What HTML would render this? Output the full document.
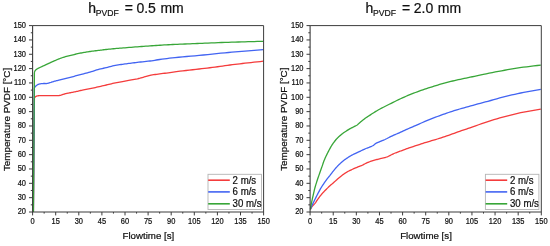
<!DOCTYPE html>
<html><head><meta charset="utf-8"><title>PVDF temperature vs flowtime</title>
<style>html,body{margin:0;padding:0;background:#fff;overflow:hidden}svg{display:block}</style>
</head><body>
<svg width="550" height="246" viewBox="0 0 550 246">
<rect width="550" height="246" fill="#fff"/>
<g>
<path d="M33.40,212.00 L34.40,98.00 L34.53,97.83 L34.66,97.66 L34.78,97.49 L34.91,97.32 L35.05,97.15 L35.20,97.00 L35.36,96.85 L35.53,96.70 L35.71,96.56 L35.90,96.43 L36.09,96.31 L36.30,96.20 L36.55,96.10 L36.81,96.02 L37.09,95.95 L37.38,95.90 L37.68,95.85 L38.00,95.80 L38.44,95.74 L38.91,95.70 L39.40,95.67 L39.91,95.64 L40.45,95.62 L41.00,95.60 L41.75,95.58 L42.56,95.58 L43.39,95.58 L44.25,95.59 L45.13,95.60 L46.00,95.60 L46.97,95.60 L47.96,95.60 L48.97,95.60 L49.98,95.60 L50.99,95.60 L52.00,95.60 L53.03,95.61 L54.10,95.62 L55.16,95.64 L56.19,95.64 L57.15,95.63 L58.00,95.60 L58.48,95.57 L58.93,95.54 L59.34,95.49 L59.73,95.44 L60.12,95.38 L60.50,95.30 L60.85,95.21 L61.19,95.09 L61.52,94.97 L61.84,94.84 L62.17,94.72 L62.50,94.60 L62.83,94.49 L63.15,94.39 L63.47,94.30 L63.79,94.20 L64.14,94.10 L64.50,94.00 L64.99,93.87 L65.51,93.73 L66.06,93.60 L66.62,93.46 L67.20,93.33 L67.80,93.20 L68.55,93.05 L69.33,92.90 L70.14,92.75 L70.96,92.60 L71.79,92.45 L72.60,92.30 L73.41,92.14 L74.23,91.98 L75.05,91.82 L75.87,91.65 L76.68,91.48 L77.50,91.30 L78.31,91.11 L79.09,90.91 L79.88,90.71 L80.69,90.50 L81.52,90.30 L82.40,90.10 L83.57,89.87 L84.80,89.64 L86.08,89.42 L87.39,89.19 L88.70,88.95 L90.00,88.70 L91.32,88.42 L92.65,88.13 L93.98,87.83 L95.32,87.52 L96.66,87.21 L98.00,86.90 L99.38,86.59 L100.77,86.27 L102.16,85.95 L103.55,85.63 L104.93,85.32 L106.30,85.00 L107.60,84.70 L108.87,84.39 L110.14,84.08 L111.41,83.78 L112.70,83.48 L114.00,83.20 L115.40,82.92 L116.82,82.64 L118.25,82.37 L119.69,82.11 L121.11,81.86 L122.50,81.60 L123.77,81.36 L125.01,81.13 L126.24,80.90 L127.47,80.67 L128.72,80.44 L130.00,80.20 L131.44,79.93 L132.93,79.66 L134.44,79.39 L135.94,79.10 L137.41,78.81 L138.80,78.50 L139.95,78.22 L141.06,77.91 L142.14,77.61 L143.20,77.30 L144.25,76.99 L145.30,76.70 L146.26,76.44 L147.18,76.17 L148.09,75.91 L149.02,75.66 L149.98,75.43 L151.00,75.20 L152.33,74.95 L153.73,74.72 L155.18,74.51 L156.67,74.30 L158.18,74.10 L159.70,73.90 L161.37,73.68 L163.07,73.46 L164.80,73.25 L166.55,73.04 L168.28,72.82 L170.00,72.60 L171.64,72.38 L173.23,72.15 L174.81,71.92 L176.43,71.68 L178.15,71.44 L180.00,71.20 L182.85,70.85 L185.98,70.49 L189.28,70.11 L192.64,69.74 L195.95,69.36 L199.10,69.00 L201.84,68.68 L204.53,68.37 L207.17,68.06 L209.79,67.75 L212.39,67.43 L215.00,67.10 L217.53,66.76 L220.03,66.41 L222.53,66.05 L225.02,65.69 L227.50,65.34 L230.00,65.00 L232.48,64.68 L234.94,64.38 L237.41,64.08 L239.89,63.79 L242.41,63.50 L245.00,63.20 L247.94,62.87 L250.96,62.53 L254.04,62.20 L257.13,61.87 L260.23,61.53 L263.30,61.20" fill="none" stroke="#f43c3c" stroke-width="1.3" stroke-linejoin="round"/>
<path d="M33.40,212.00 L34.40,87.80 L34.55,87.60 L34.69,87.40 L34.83,87.19 L34.98,86.99 L35.13,86.79 L35.30,86.60 L35.49,86.39 L35.69,86.18 L35.91,85.98 L36.13,85.78 L36.36,85.59 L36.60,85.40 L36.88,85.20 L37.18,85.00 L37.50,84.80 L37.82,84.62 L38.16,84.45 L38.50,84.30 L38.89,84.16 L39.29,84.04 L39.70,83.94 L40.13,83.85 L40.56,83.77 L41.00,83.70 L41.48,83.64 L41.99,83.59 L42.49,83.56 L43.00,83.53 L43.51,83.52 L44.00,83.50 L44.45,83.50 L44.90,83.51 L45.34,83.52 L45.77,83.53 L46.19,83.53 L46.60,83.50 L46.93,83.46 L47.26,83.40 L47.57,83.33 L47.88,83.26 L48.19,83.18 L48.50,83.10 L48.83,83.01 L49.14,82.92 L49.46,82.82 L49.79,82.72 L50.13,82.61 L50.50,82.50 L51.02,82.34 L51.59,82.15 L52.17,81.96 L52.78,81.77 L53.39,81.58 L54.00,81.40 L54.64,81.23 L55.28,81.06 L55.93,80.90 L56.59,80.74 L57.28,80.58 L58.00,80.40 L58.94,80.17 L59.94,79.92 L60.97,79.67 L62.02,79.41 L63.07,79.15 L64.10,78.90 L65.12,78.65 L66.13,78.41 L67.15,78.16 L68.17,77.91 L69.18,77.66 L70.20,77.40 L71.22,77.13 L72.23,76.84 L73.25,76.56 L74.27,76.27 L75.28,75.98 L76.30,75.70 L77.31,75.43 L78.31,75.17 L79.31,74.91 L80.32,74.64 L81.34,74.38 L82.40,74.10 L83.62,73.78 L84.87,73.47 L86.14,73.14 L87.43,72.81 L88.72,72.46 L90.00,72.10 L91.32,71.70 L92.65,71.28 L93.98,70.85 L95.31,70.41 L96.65,69.99 L98.00,69.60 L99.37,69.24 L100.76,68.89 L102.16,68.57 L103.55,68.25 L104.93,67.93 L106.30,67.60 L107.60,67.28 L108.87,66.94 L110.14,66.61 L111.41,66.29 L112.69,65.98 L114.00,65.70 L115.39,65.43 L116.82,65.18 L118.25,64.94 L119.69,64.72 L121.11,64.51 L122.50,64.30 L123.77,64.12 L125.01,63.94 L126.24,63.78 L127.47,63.62 L128.72,63.46 L130.00,63.30 L131.41,63.12 L132.84,62.93 L134.29,62.75 L135.76,62.56 L137.26,62.38 L138.80,62.20 L140.60,62.00 L142.46,61.81 L144.37,61.62 L146.28,61.43 L148.17,61.22 L150.00,61.00 L151.63,60.77 L153.20,60.53 L154.76,60.27 L156.33,60.01 L157.96,59.76 L159.70,59.50 L162.01,59.18 L164.41,58.86 L166.91,58.54 L169.51,58.22 L172.21,57.91 L175.00,57.60 L178.69,57.23 L182.60,56.86 L186.65,56.51 L190.80,56.15 L194.97,55.78 L199.10,55.40 L203.40,54.98 L207.79,54.53 L212.20,54.08 L216.58,53.63 L220.87,53.20 L225.00,52.80 L228.49,52.48 L231.89,52.19 L235.22,51.91 L238.49,51.64 L241.75,51.37 L245.00,51.10 L248.10,50.84 L251.16,50.59 L254.20,50.34 L257.23,50.10 L260.26,49.85 L263.30,49.60" fill="none" stroke="#4264f2" stroke-width="1.3" stroke-linejoin="round"/>
<path d="M33.40,212.00 L34.40,72.40 L34.50,72.15 L34.59,71.89 L34.68,71.63 L34.78,71.37 L34.88,71.13 L35.00,70.90 L35.11,70.71 L35.23,70.54 L35.36,70.37 L35.50,70.21 L35.64,70.06 L35.80,69.90 L36.00,69.72 L36.22,69.55 L36.45,69.38 L36.70,69.22 L36.95,69.06 L37.20,68.90 L37.48,68.73 L37.77,68.56 L38.07,68.39 L38.38,68.23 L38.69,68.06 L39.00,67.90 L39.34,67.73 L39.68,67.56 L40.03,67.40 L40.38,67.23 L40.74,67.07 L41.10,66.90 L41.49,66.72 L41.88,66.54 L42.27,66.36 L42.67,66.18 L43.08,66.00 L43.50,65.80 L43.99,65.56 L44.50,65.32 L45.02,65.06 L45.54,64.81 L46.07,64.55 L46.60,64.30 L47.15,64.05 L47.70,63.81 L48.25,63.56 L48.81,63.32 L49.39,63.07 L50.00,62.80 L50.78,62.46 L51.59,62.09 L52.44,61.72 L53.30,61.34 L54.15,60.97 L55.00,60.60 L55.82,60.24 L56.64,59.89 L57.45,59.53 L58.28,59.18 L59.12,58.84 L60.00,58.50 L61.03,58.13 L62.09,57.76 L63.19,57.40 L64.29,57.05 L65.40,56.72 L66.50,56.40 L67.58,56.11 L68.65,55.83 L69.73,55.57 L70.81,55.31 L71.90,55.06 L73.00,54.80 L74.16,54.53 L75.33,54.25 L76.51,53.97 L77.69,53.70 L78.86,53.44 L80.00,53.20 L81.02,52.99 L82.03,52.80 L83.03,52.62 L84.01,52.44 L85.00,52.27 L86.00,52.10 L86.99,51.94 L87.97,51.78 L88.96,51.63 L89.95,51.49 L90.96,51.34 L92.00,51.20 L93.21,51.04 L94.46,50.89 L95.73,50.74 L97.01,50.59 L98.27,50.45 L99.50,50.30 L100.60,50.16 L101.66,50.03 L102.71,49.90 L103.77,49.76 L104.86,49.63 L106.00,49.50 L107.41,49.35 L108.87,49.19 L110.38,49.04 L111.91,48.89 L113.46,48.74 L115.00,48.60 L116.62,48.46 L118.25,48.33 L119.90,48.20 L121.57,48.07 L123.26,47.94 L125.00,47.80 L126.99,47.64 L129.03,47.47 L131.11,47.30 L133.21,47.13 L135.31,46.96 L137.40,46.80 L139.50,46.64 L141.60,46.49 L143.71,46.34 L145.82,46.19 L147.92,46.04 L150.00,45.90 L152.01,45.76 L154.00,45.62 L155.99,45.49 L157.97,45.35 L159.98,45.23 L162.00,45.10 L164.13,44.97 L166.26,44.85 L168.41,44.73 L170.58,44.62 L172.77,44.51 L175.00,44.40 L177.44,44.29 L179.92,44.19 L182.44,44.09 L184.97,43.99 L187.49,43.90 L190.00,43.80 L192.45,43.70 L194.86,43.60 L197.26,43.51 L199.70,43.41 L202.20,43.30 L204.80,43.20 L207.99,43.07 L211.30,42.93 L214.71,42.79 L218.16,42.66 L221.60,42.52 L225.00,42.40 L228.35,42.29 L231.71,42.18 L235.06,42.08 L238.40,41.99 L241.72,41.89 L245.00,41.80 L248.10,41.71 L251.16,41.63 L254.20,41.55 L257.23,41.46 L260.26,41.38 L263.30,41.30" fill="none" stroke="#38a638" stroke-width="1.3" stroke-linejoin="round"/>
<path d="M32.6,25.6 H263.6 V212.0" fill="none" stroke="#3c3c3c" stroke-width="1"/>
<rect x="208.00" y="174.3" width="53.5" height="35.2" fill="#fff" stroke="#b4b4b4" stroke-width="0.9"/>
<line x1="208.20" y1="180.2" x2="229.80" y2="180.2" stroke="#f43c3c" stroke-width="1.6"/>
<line x1="208.20" y1="191.9" x2="229.80" y2="191.9" stroke="#4264f2" stroke-width="1.6"/>
<line x1="208.20" y1="203.8" x2="229.80" y2="203.8" stroke="#38a638" stroke-width="1.6"/>
</g>
<path d="M32.6,25.6 V212.0 H263.6" fill="none" stroke="#3c3c3c" stroke-width="1.1"/>
<path d="M32.60,212.0 v3.4 M44.15,212.0 v1.6 M55.70,212.0 v3.4 M67.25,212.0 v1.6 M78.80,212.0 v3.4 M90.35,212.0 v1.6 M101.90,212.0 v3.4 M113.45,212.0 v1.6 M125.00,212.0 v3.4 M136.55,212.0 v1.6 M148.10,212.0 v3.4 M159.65,212.0 v1.6 M171.20,212.0 v3.4 M182.75,212.0 v1.6 M194.30,212.0 v3.4 M205.85,212.0 v1.6 M217.40,212.0 v3.4 M228.95,212.0 v1.6 M240.50,212.0 v3.4 M252.05,212.0 v1.6 M263.60,212.0 v3.4 M32.6,212.00 h-3.6 M32.6,204.83 h-1.8 M32.6,197.66 h-3.6 M32.6,190.49 h-1.8 M32.6,183.32 h-3.6 M32.6,176.15 h-1.8 M32.6,168.98 h-3.6 M32.6,161.82 h-1.8 M32.6,154.65 h-3.6 M32.6,147.48 h-1.8 M32.6,140.31 h-3.6 M32.6,133.14 h-1.8 M32.6,125.97 h-3.6 M32.6,118.80 h-1.8 M32.6,111.63 h-3.6 M32.6,104.46 h-1.8 M32.6,97.29 h-3.6 M32.6,90.12 h-1.8 M32.6,82.95 h-3.6 M32.6,75.78 h-1.8 M32.6,68.62 h-3.6 M32.6,61.45 h-1.8 M32.6,54.28 h-3.6 M32.6,47.11 h-1.8 M32.6,39.94 h-3.6 M32.6,32.77 h-1.8 M32.6,25.60 h-3.6" stroke="#3c3c3c" stroke-width="1" fill="none"/>
<g font-family="'Liberation Sans', Arial, sans-serif" fill="#111" stroke="#111" stroke-width="0.22">
<text><tspan x="88.20" y="12.5" font-size="14.0">h</tspan><tspan x="124.70" y="12.5" font-size="14.0">=</tspan><tspan x="136.40" y="12.5" font-size="14.0">0.5</tspan><tspan x="160.40" y="12.5" font-size="14.0">mm</tspan></text>
<text transform="translate(95.70,16.10) scale(0.87,1)" font-size="9.9">PVDF</text>
<text transform="translate(32.60,224.20) scale(0.9,1)" font-size="8.3" text-anchor="middle">0</text>
<text transform="translate(55.70,224.20) scale(0.9,1)" font-size="8.3" text-anchor="middle">15</text>
<text transform="translate(78.80,224.20) scale(0.9,1)" font-size="8.3" text-anchor="middle">30</text>
<text transform="translate(101.90,224.20) scale(0.9,1)" font-size="8.3" text-anchor="middle">45</text>
<text transform="translate(125.00,224.20) scale(0.9,1)" font-size="8.3" text-anchor="middle">60</text>
<text transform="translate(148.10,224.20) scale(0.9,1)" font-size="8.3" text-anchor="middle">75</text>
<text transform="translate(171.20,224.20) scale(0.9,1)" font-size="8.3" text-anchor="middle">90</text>
<text transform="translate(194.30,224.20) scale(0.9,1)" font-size="8.3" text-anchor="middle">105</text>
<text transform="translate(217.40,224.20) scale(0.9,1)" font-size="8.3" text-anchor="middle">120</text>
<text transform="translate(240.50,224.20) scale(0.9,1)" font-size="8.3" text-anchor="middle">135</text>
<text transform="translate(263.60,224.20) scale(0.9,1)" font-size="8.3" text-anchor="middle">150</text>
<text transform="translate(26.00,214.30) scale(0.9,1)" font-size="8.3" text-anchor="end">20</text>
<text transform="translate(26.00,199.96) scale(0.9,1)" font-size="8.3" text-anchor="end">30</text>
<text transform="translate(26.00,185.62) scale(0.9,1)" font-size="8.3" text-anchor="end">40</text>
<text transform="translate(26.00,171.28) scale(0.9,1)" font-size="8.3" text-anchor="end">50</text>
<text transform="translate(26.00,156.95) scale(0.9,1)" font-size="8.3" text-anchor="end">60</text>
<text transform="translate(26.00,142.61) scale(0.9,1)" font-size="8.3" text-anchor="end">70</text>
<text transform="translate(26.00,128.27) scale(0.9,1)" font-size="8.3" text-anchor="end">80</text>
<text transform="translate(26.00,113.93) scale(0.9,1)" font-size="8.3" text-anchor="end">90</text>
<text transform="translate(26.00,99.59) scale(0.9,1)" font-size="8.3" text-anchor="end">100</text>
<text transform="translate(26.00,85.25) scale(0.9,1)" font-size="8.3" text-anchor="end">110</text>
<text transform="translate(26.00,70.92) scale(0.9,1)" font-size="8.3" text-anchor="end">120</text>
<text transform="translate(26.00,56.58) scale(0.9,1)" font-size="8.3" text-anchor="end">130</text>
<text transform="translate(26.00,42.24) scale(0.9,1)" font-size="8.3" text-anchor="end">140</text>
<text transform="translate(26.00,27.90) scale(0.9,1)" font-size="8.3" text-anchor="end">150</text>
<text x="148.40" y="239.00" font-size="9.7" text-anchor="middle">Flowtime [s]</text>
<text transform="translate(9.90,119.5) rotate(-90) scale(1.045,1)" font-size="9.4" text-anchor="middle">Temperature PVDF [°C]</text>
<text transform="translate(232.60,183.50) scale(0.955,1)" font-size="10.1">2 m/s</text>
<text transform="translate(232.60,195.20) scale(0.955,1)" font-size="10.1">6 m/s</text>
<text transform="translate(232.60,207.10) scale(0.955,1)" font-size="10.1">30 m/s</text>
</g>
<g>
<path d="M310.40,209.30 L310.66,208.87 L310.90,208.44 L311.15,208.01 L311.41,207.58 L311.69,207.14 L312.00,206.70 L312.43,206.16 L312.92,205.61 L313.43,205.06 L313.96,204.50 L314.49,203.91 L315.00,203.30 L315.56,202.55 L316.10,201.76 L316.65,200.93 L317.20,200.10 L317.75,199.28 L318.30,198.50 L318.83,197.79 L319.35,197.09 L319.88,196.40 L320.41,195.72 L320.95,195.06 L321.50,194.40 L322.04,193.78 L322.58,193.16 L323.14,192.56 L323.69,191.97 L324.25,191.38 L324.80,190.80 L325.33,190.25 L325.86,189.71 L326.39,189.17 L326.92,188.64 L327.46,188.12 L328.00,187.60 L328.54,187.09 L329.09,186.58 L329.64,186.08 L330.20,185.58 L330.75,185.09 L331.30,184.60 L331.84,184.12 L332.38,183.65 L332.92,183.18 L333.45,182.72 L333.98,182.26 L334.50,181.80 L334.97,181.38 L335.43,180.97 L335.89,180.56 L336.34,180.14 L336.81,179.73 L337.30,179.30 L337.88,178.80 L338.49,178.28 L339.11,177.75 L339.74,177.22 L340.38,176.70 L341.00,176.20 L341.60,175.73 L342.19,175.26 L342.79,174.80 L343.39,174.36 L343.99,173.92 L344.60,173.50 L345.21,173.10 L345.82,172.72 L346.43,172.35 L347.05,171.99 L347.68,171.64 L348.30,171.30 L348.91,170.98 L349.53,170.67 L350.15,170.37 L350.77,170.07 L351.38,169.79 L352.00,169.50 L352.60,169.22 L353.19,168.96 L353.78,168.69 L354.37,168.43 L354.98,168.17 L355.60,167.90 L356.32,167.60 L357.08,167.28 L357.86,166.96 L358.62,166.65 L359.34,166.36 L360.00,166.10 L360.42,165.94 L360.79,165.80 L361.15,165.67 L361.50,165.53 L361.88,165.38 L362.30,165.20 L363.01,164.86 L363.80,164.44 L364.63,164.00 L365.49,163.54 L366.36,163.09 L367.20,162.70 L368.01,162.36 L368.82,162.04 L369.64,161.74 L370.46,161.45 L371.28,161.17 L372.10,160.90 L372.91,160.64 L373.73,160.40 L374.55,160.17 L375.37,159.94 L376.18,159.72 L377.00,159.50 L377.82,159.28 L378.67,159.07 L379.52,158.85 L380.34,158.65 L381.11,158.47 L381.80,158.30 L382.21,158.21 L382.58,158.13 L382.93,158.05 L383.27,157.98 L383.62,157.90 L384.00,157.80 L384.52,157.66 L385.07,157.51 L385.64,157.35 L386.22,157.18 L386.77,156.99 L387.30,156.80 L387.74,156.62 L388.15,156.43 L388.55,156.23 L388.95,156.03 L389.36,155.82 L389.80,155.60 L390.36,155.32 L390.95,155.02 L391.55,154.71 L392.17,154.39 L392.79,154.09 L393.40,153.80 L394.01,153.53 L394.63,153.27 L395.24,153.02 L395.86,152.78 L396.48,152.54 L397.10,152.30 L397.70,152.07 L398.30,151.86 L398.90,151.64 L399.50,151.43 L400.10,151.22 L400.70,151.00 L401.31,150.77 L401.90,150.55 L402.50,150.32 L403.11,150.08 L403.74,149.85 L404.40,149.60 L405.25,149.29 L406.12,148.97 L407.02,148.65 L407.97,148.31 L408.96,147.96 L410.00,147.60 L411.53,147.08 L413.21,146.52 L414.97,145.94 L416.73,145.36 L418.44,144.81 L420.00,144.30 L421.10,143.94 L422.11,143.61 L423.08,143.29 L424.05,142.98 L425.08,142.65 L426.20,142.30 L427.88,141.80 L429.69,141.27 L431.60,140.72 L433.55,140.15 L435.50,139.58 L437.40,139.00 L439.27,138.41 L441.14,137.81 L443.01,137.19 L444.88,136.57 L446.74,135.94 L448.60,135.30 L450.46,134.65 L452.32,133.98 L454.18,133.30 L456.03,132.62 L457.87,131.95 L459.70,131.30 L461.40,130.71 L463.06,130.15 L464.70,129.59 L466.37,129.03 L468.12,128.44 L470.00,127.80 L472.70,126.86 L475.60,125.83 L478.64,124.76 L481.74,123.67 L484.85,122.60 L487.90,121.60 L490.87,120.65 L493.85,119.73 L496.83,118.83 L499.82,117.96 L502.81,117.11 L505.80,116.30 L508.78,115.53 L511.77,114.78 L514.76,114.06 L517.75,113.38 L520.73,112.72 L523.70,112.10 L526.57,111.54 L529.42,111.02 L532.27,110.53 L535.11,110.06 L537.95,109.59 L540.80,109.10" fill="none" stroke="#f43c3c" stroke-width="1.3" stroke-linejoin="round"/>
<path d="M310.40,209.30 L310.66,208.69 L310.91,208.10 L311.16,207.51 L311.42,206.90 L311.70,206.27 L312.00,205.60 L312.44,204.64 L312.92,203.62 L313.42,202.56 L313.95,201.46 L314.48,200.37 L315.00,199.30 L315.54,198.21 L316.08,197.12 L316.63,196.02 L317.19,194.93 L317.74,193.86 L318.30,192.80 L318.83,191.82 L319.35,190.85 L319.88,189.89 L320.41,188.94 L320.95,188.01 L321.50,187.10 L322.04,186.25 L322.58,185.42 L323.13,184.60 L323.69,183.79 L324.25,182.99 L324.80,182.20 L325.34,181.43 L325.89,180.66 L326.44,179.89 L326.98,179.15 L327.50,178.45 L328.00,177.80 L328.35,177.36 L328.67,176.97 L328.99,176.60 L329.31,176.23 L329.64,175.84 L330.00,175.40 L330.55,174.69 L331.15,173.91 L331.78,173.08 L332.42,172.23 L333.07,171.40 L333.70,170.60 L334.29,169.87 L334.89,169.15 L335.48,168.45 L336.08,167.75 L336.69,167.07 L337.30,166.40 L337.90,165.77 L338.51,165.15 L339.13,164.54 L339.75,163.95 L340.38,163.37 L341.00,162.80 L341.59,162.27 L342.19,161.75 L342.78,161.25 L343.38,160.75 L343.99,160.27 L344.60,159.80 L345.21,159.36 L345.82,158.93 L346.43,158.51 L347.05,158.10 L347.68,157.70 L348.30,157.30 L348.91,156.91 L349.53,156.54 L350.14,156.16 L350.76,155.80 L351.38,155.44 L352.00,155.10 L352.60,154.78 L353.21,154.47 L353.81,154.16 L354.42,153.87 L355.01,153.58 L355.60,153.30 L356.13,153.05 L356.64,152.82 L357.15,152.60 L357.66,152.37 L358.17,152.14 L358.70,151.90 L359.28,151.63 L359.88,151.35 L360.48,151.06 L361.09,150.77 L361.69,150.48 L362.30,150.20 L362.91,149.91 L363.53,149.62 L364.15,149.33 L364.76,149.05 L365.38,148.77 L366.00,148.50 L366.60,148.25 L367.20,148.02 L367.80,147.80 L368.40,147.58 L369.00,147.35 L369.60,147.10 L370.23,146.84 L370.87,146.57 L371.51,146.30 L372.14,146.02 L372.74,145.72 L373.30,145.40 L373.73,145.10 L374.13,144.78 L374.50,144.45 L374.87,144.12 L375.27,143.80 L375.70,143.50 L376.25,143.19 L376.83,142.90 L377.44,142.63 L378.07,142.36 L378.73,142.09 L379.40,141.80 L380.26,141.44 L381.17,141.07 L382.12,140.70 L383.08,140.32 L384.05,139.92 L385.00,139.50 L386.00,139.02 L386.99,138.52 L387.98,137.99 L388.99,137.46 L390.02,136.93 L391.10,136.40 L392.39,135.80 L393.74,135.21 L395.12,134.61 L396.52,134.01 L397.92,133.41 L399.30,132.80 L400.65,132.19 L402.00,131.57 L403.35,130.95 L404.70,130.32 L406.05,129.71 L407.40,129.10 L408.73,128.51 L410.06,127.94 L411.38,127.37 L412.72,126.80 L414.09,126.21 L415.50,125.60 L417.19,124.85 L418.95,124.07 L420.74,123.27 L422.55,122.47 L424.38,121.67 L426.20,120.90 L428.05,120.14 L429.91,119.39 L431.77,118.65 L433.65,117.92 L435.53,117.21 L437.40,116.50 L439.26,115.81 L441.13,115.12 L442.99,114.45 L444.86,113.79 L446.73,113.14 L448.60,112.50 L450.44,111.89 L452.26,111.30 L454.08,110.72 L455.92,110.14 L457.79,109.57 L459.70,109.00 L461.83,108.38 L464.01,107.76 L466.22,107.15 L468.46,106.54 L470.72,105.92 L473.00,105.30 L475.42,104.64 L477.85,103.99 L480.31,103.33 L482.80,102.67 L485.33,101.99 L487.90,101.30 L490.79,100.50 L493.74,99.67 L496.74,98.83 L499.77,97.99 L502.79,97.17 L505.80,96.40 L508.78,95.67 L511.77,94.97 L514.76,94.29 L517.75,93.63 L520.73,93.00 L523.70,92.40 L526.57,91.85 L529.42,91.33 L532.27,90.85 L535.11,90.37 L537.95,89.89 L540.80,89.40" fill="none" stroke="#4264f2" stroke-width="1.3" stroke-linejoin="round"/>
<path d="M310.40,209.30 L310.56,208.31 L310.72,207.33 L310.87,206.34 L311.03,205.35 L311.21,204.34 L311.40,203.30 L311.65,202.07 L311.92,200.81 L312.20,199.52 L312.50,198.21 L312.80,196.90 L313.10,195.60 L313.40,194.26 L313.70,192.90 L314.01,191.54 L314.32,190.19 L314.65,188.84 L315.00,187.50 L315.37,186.20 L315.76,184.90 L316.16,183.62 L316.57,182.34 L316.98,181.07 L317.40,179.80 L317.81,178.56 L318.23,177.32 L318.65,176.09 L319.07,174.87 L319.49,173.67 L319.90,172.50 L320.26,171.48 L320.61,170.49 L320.96,169.51 L321.31,168.55 L321.65,167.58 L322.00,166.60 L322.35,165.60 L322.69,164.59 L323.03,163.58 L323.37,162.57 L323.73,161.58 L324.10,160.60 L324.48,159.67 L324.87,158.76 L325.26,157.86 L325.67,156.96 L326.08,156.08 L326.50,155.20 L326.91,154.36 L327.32,153.53 L327.74,152.71 L328.16,151.90 L328.58,151.09 L329.00,150.30 L329.40,149.56 L329.79,148.83 L330.18,148.10 L330.58,147.39 L330.99,146.69 L331.40,146.00 L331.80,145.36 L332.21,144.72 L332.63,144.10 L333.05,143.48 L333.48,142.88 L333.90,142.30 L334.29,141.77 L334.69,141.26 L335.09,140.75 L335.49,140.26 L335.89,139.77 L336.30,139.30 L336.69,138.86 L337.08,138.43 L337.48,138.01 L337.88,137.60 L338.29,137.19 L338.70,136.80 L339.11,136.43 L339.52,136.07 L339.94,135.72 L340.36,135.38 L340.78,135.04 L341.20,134.70 L341.60,134.37 L342.00,134.05 L342.40,133.73 L342.80,133.41 L343.20,133.10 L343.60,132.80 L344.00,132.52 L344.39,132.25 L344.79,131.98 L345.19,131.72 L345.60,131.46 L346.00,131.20 L346.41,130.93 L346.83,130.66 L347.24,130.39 L347.66,130.12 L348.08,129.86 L348.50,129.60 L348.91,129.36 L349.31,129.12 L349.72,128.90 L350.13,128.67 L350.55,128.44 L351.00,128.20 L351.57,127.91 L352.17,127.61 L352.80,127.30 L353.43,126.99 L354.03,126.69 L354.60,126.40 L355.05,126.17 L355.48,125.95 L355.89,125.73 L356.30,125.51 L356.70,125.27 L357.10,125.00 L357.51,124.69 L357.92,124.35 L358.31,123.99 L358.70,123.62 L359.10,123.26 L359.50,122.90 L359.91,122.55 L360.33,122.19 L360.75,121.84 L361.17,121.49 L361.58,121.14 L362.00,120.80 L362.40,120.47 L362.80,120.15 L363.20,119.83 L363.60,119.52 L364.00,119.21 L364.40,118.90 L364.79,118.61 L365.18,118.33 L365.57,118.05 L365.97,117.77 L366.38,117.49 L366.80,117.20 L367.30,116.86 L367.80,116.53 L368.32,116.19 L368.86,115.84 L369.42,115.48 L370.00,115.10 L370.77,114.60 L371.58,114.07 L372.43,113.52 L373.29,112.97 L374.15,112.43 L375.00,111.90 L375.81,111.41 L376.58,110.94 L377.36,110.48 L378.18,110.02 L379.04,109.53 L380.00,109.00 L381.60,108.15 L383.39,107.22 L385.31,106.24 L387.29,105.24 L389.28,104.25 L391.20,103.30 L393.06,102.38 L394.92,101.46 L396.79,100.54 L398.65,99.64 L400.52,98.76 L402.40,97.90 L404.26,97.07 L406.12,96.26 L407.99,95.47 L409.86,94.70 L411.73,93.94 L413.60,93.20 L415.45,92.49 L417.29,91.81 L419.14,91.14 L420.99,90.48 L422.84,89.84 L424.70,89.20 L426.56,88.57 L428.42,87.96 L430.29,87.35 L432.16,86.76 L434.03,86.17 L435.90,85.60 L437.76,85.04 L439.63,84.49 L441.49,83.95 L443.36,83.42 L445.23,82.90 L447.10,82.40 L448.96,81.92 L450.81,81.45 L452.67,81.00 L454.54,80.56 L456.41,80.13 L458.30,79.70 L460.25,79.27 L462.22,78.85 L464.19,78.44 L466.18,78.04 L468.18,77.62 L470.20,77.20 L472.32,76.75 L474.44,76.29 L476.57,75.83 L478.75,75.36 L480.98,74.88 L483.30,74.40 L486.17,73.81 L489.17,73.21 L492.25,72.59 L495.38,71.98 L498.51,71.38 L501.60,70.80 L504.63,70.25 L507.65,69.71 L510.67,69.18 L513.70,68.67 L516.78,68.17 L519.90,67.70 L523.30,67.22 L526.76,66.78 L530.26,66.35 L533.78,65.94 L537.30,65.52 L540.80,65.10" fill="none" stroke="#38a638" stroke-width="1.3" stroke-linejoin="round"/>
<path d="M310.1,25.6 H541.3 V212.0" fill="none" stroke="#3c3c3c" stroke-width="1"/>
<rect x="485.40" y="174.3" width="53.5" height="35.2" fill="#fff" stroke="#b4b4b4" stroke-width="0.9"/>
<line x1="485.60" y1="180.2" x2="507.20" y2="180.2" stroke="#f43c3c" stroke-width="1.6"/>
<line x1="485.60" y1="191.9" x2="507.20" y2="191.9" stroke="#4264f2" stroke-width="1.6"/>
<line x1="485.60" y1="203.8" x2="507.20" y2="203.8" stroke="#38a638" stroke-width="1.6"/>
</g>
<path d="M310.1,25.6 V212.0 H541.3" fill="none" stroke="#3c3c3c" stroke-width="1.1"/>
<path d="M310.10,212.0 v3.4 M321.66,212.0 v1.6 M333.22,212.0 v3.4 M344.78,212.0 v1.6 M356.34,212.0 v3.4 M367.90,212.0 v1.6 M379.46,212.0 v3.4 M391.02,212.0 v1.6 M402.58,212.0 v3.4 M414.14,212.0 v1.6 M425.70,212.0 v3.4 M437.26,212.0 v1.6 M448.82,212.0 v3.4 M460.38,212.0 v1.6 M471.94,212.0 v3.4 M483.50,212.0 v1.6 M495.06,212.0 v3.4 M506.62,212.0 v1.6 M518.18,212.0 v3.4 M529.74,212.0 v1.6 M541.30,212.0 v3.4 M310.1,212.00 h-3.6 M310.1,204.83 h-1.8 M310.1,197.66 h-3.6 M310.1,190.49 h-1.8 M310.1,183.32 h-3.6 M310.1,176.15 h-1.8 M310.1,168.98 h-3.6 M310.1,161.82 h-1.8 M310.1,154.65 h-3.6 M310.1,147.48 h-1.8 M310.1,140.31 h-3.6 M310.1,133.14 h-1.8 M310.1,125.97 h-3.6 M310.1,118.80 h-1.8 M310.1,111.63 h-3.6 M310.1,104.46 h-1.8 M310.1,97.29 h-3.6 M310.1,90.12 h-1.8 M310.1,82.95 h-3.6 M310.1,75.78 h-1.8 M310.1,68.62 h-3.6 M310.1,61.45 h-1.8 M310.1,54.28 h-3.6 M310.1,47.11 h-1.8 M310.1,39.94 h-3.6 M310.1,32.77 h-1.8 M310.1,25.60 h-3.6" stroke="#3c3c3c" stroke-width="1" fill="none"/>
<g font-family="'Liberation Sans', Arial, sans-serif" fill="#111" stroke="#111" stroke-width="0.22">
<text><tspan x="365.60" y="12.5" font-size="14.0">h</tspan><tspan x="402.10" y="12.5" font-size="14.0">=</tspan><tspan x="413.80" y="12.5" font-size="14.0">2.0</tspan><tspan x="437.80" y="12.5" font-size="14.0">mm</tspan></text>
<text transform="translate(373.10,16.10) scale(0.87,1)" font-size="9.9">PVDF</text>
<text transform="translate(310.10,224.20) scale(0.9,1)" font-size="8.3" text-anchor="middle">0</text>
<text transform="translate(333.22,224.20) scale(0.9,1)" font-size="8.3" text-anchor="middle">15</text>
<text transform="translate(356.34,224.20) scale(0.9,1)" font-size="8.3" text-anchor="middle">30</text>
<text transform="translate(379.46,224.20) scale(0.9,1)" font-size="8.3" text-anchor="middle">45</text>
<text transform="translate(402.58,224.20) scale(0.9,1)" font-size="8.3" text-anchor="middle">60</text>
<text transform="translate(425.70,224.20) scale(0.9,1)" font-size="8.3" text-anchor="middle">75</text>
<text transform="translate(448.82,224.20) scale(0.9,1)" font-size="8.3" text-anchor="middle">90</text>
<text transform="translate(471.94,224.20) scale(0.9,1)" font-size="8.3" text-anchor="middle">105</text>
<text transform="translate(495.06,224.20) scale(0.9,1)" font-size="8.3" text-anchor="middle">120</text>
<text transform="translate(518.18,224.20) scale(0.9,1)" font-size="8.3" text-anchor="middle">135</text>
<text transform="translate(541.30,224.20) scale(0.9,1)" font-size="8.3" text-anchor="middle">150</text>
<text transform="translate(303.50,214.30) scale(0.9,1)" font-size="8.3" text-anchor="end">20</text>
<text transform="translate(303.50,199.96) scale(0.9,1)" font-size="8.3" text-anchor="end">30</text>
<text transform="translate(303.50,185.62) scale(0.9,1)" font-size="8.3" text-anchor="end">40</text>
<text transform="translate(303.50,171.28) scale(0.9,1)" font-size="8.3" text-anchor="end">50</text>
<text transform="translate(303.50,156.95) scale(0.9,1)" font-size="8.3" text-anchor="end">60</text>
<text transform="translate(303.50,142.61) scale(0.9,1)" font-size="8.3" text-anchor="end">70</text>
<text transform="translate(303.50,128.27) scale(0.9,1)" font-size="8.3" text-anchor="end">80</text>
<text transform="translate(303.50,113.93) scale(0.9,1)" font-size="8.3" text-anchor="end">90</text>
<text transform="translate(303.50,99.59) scale(0.9,1)" font-size="8.3" text-anchor="end">100</text>
<text transform="translate(303.50,85.25) scale(0.9,1)" font-size="8.3" text-anchor="end">110</text>
<text transform="translate(303.50,70.92) scale(0.9,1)" font-size="8.3" text-anchor="end">120</text>
<text transform="translate(303.50,56.58) scale(0.9,1)" font-size="8.3" text-anchor="end">130</text>
<text transform="translate(303.50,42.24) scale(0.9,1)" font-size="8.3" text-anchor="end">140</text>
<text transform="translate(303.50,27.90) scale(0.9,1)" font-size="8.3" text-anchor="end">150</text>
<text x="426.00" y="239.00" font-size="9.7" text-anchor="middle">Flowtime [s]</text>
<text transform="translate(287.40,119.2) rotate(-90) scale(1.045,1)" font-size="9.4" text-anchor="middle">Temperature PVDF [°C]</text>
<text transform="translate(510.00,183.50) scale(0.955,1)" font-size="10.1">2 m/s</text>
<text transform="translate(510.00,195.20) scale(0.955,1)" font-size="10.1">6 m/s</text>
<text transform="translate(510.00,207.10) scale(0.955,1)" font-size="10.1">30 m/s</text>
</g>
</svg>
</body></html>
